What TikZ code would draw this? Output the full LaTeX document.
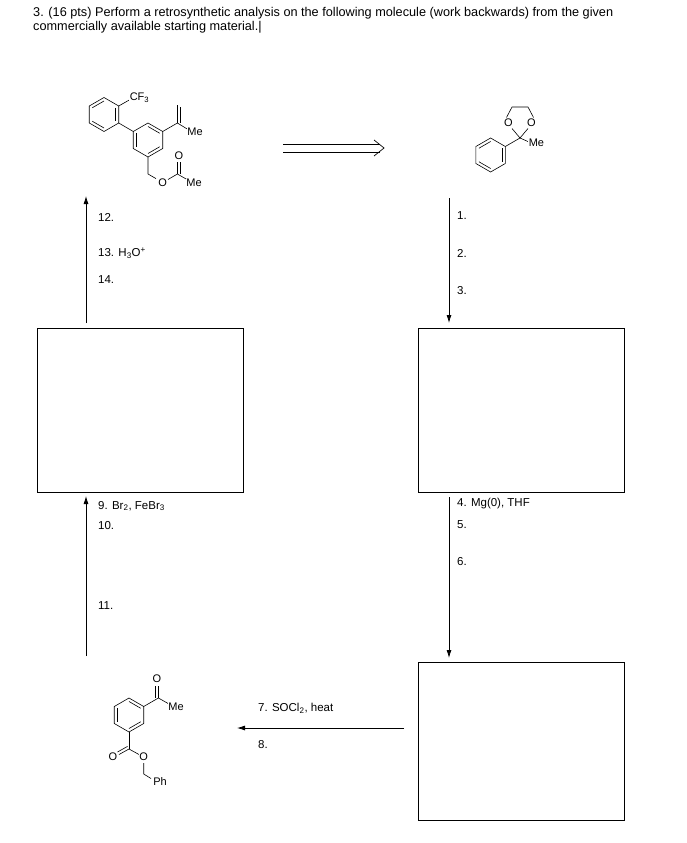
\documentclass[tikz,border=0pt]{standalone}
\usepackage{fontspec}
\setmainfont{Liberation Sans}
\usetikzlibrary{arrows.meta,calc}
\begin{document}
\begin{tikzpicture}[x=1pt,y=-1pt,
  lbl/.style={anchor=west,inner sep=0pt,font=\fontsize{11.5}{13}\selectfont},
  atom/.style={inner sep=0.6pt,fill=white,font=\fontsize{11}{12}\selectfont},
  bond/.style={line width=0.6pt},
  rxn/.style={line width=0.8pt,-{Latex[length=8pt,width=5pt]}},
  box/.style={draw,line width=0.8pt}]
\useasboundingbox (0,0) rectangle (687,843);
\newcommand{\benz}[3]{% center x, y, inner-bond angles
  \draw[bond] ($(#1,#2)+(30:17)$) -- ($(#1,#2)+(90:17)$) -- ($(#1,#2)+(150:17)$) -- ($(#1,#2)+(210:17)$) -- ($(#1,#2)+(270:17)$) -- ($(#1,#2)+(330:17)$) -- cycle;
  \foreach \a in {#3} {\draw[bond] ($(#1,#2)+(\a:13.5)$) -- ($(#1,#2)+(\a+60:13.5)$);}
}
% title
\node[anchor=north west,inner sep=0pt,align=left,font=\fontsize{12.7}{14.5}\selectfont] (title) at (33,7)
 {3. (16 pts) Perform a retrosynthetic analysis on the following molecule (work backwards) from the given\\commercially available starting material.|};
% target molecule
\begin{scope}
\benz{104}{114.5}{90,210,330}
\benz{148}{140}{30,150,270}
\draw[bond] (133.3,131.5) -- (118.7,123);
\draw[bond] (118.7,106) -- (131,99);
\node[atom,anchor=west] (cf3) at (129,98) {CF\textsubscript{3}};
\draw[bond] (162.7,131.5) -- (177.4,123);
\draw[bond] (177.4,123) -- (177.4,105);
\draw[bond] (180.4,123) -- (180.4,107);
\draw[bond] (177.4,123) -- (188,129.5);
\node[atom] (me1) at (195,132) {Me};
\draw[bond] (148,157) -- (148,174) -- (156,178.6);
\node[atom] (o1) at (162.7,182.5) {O};
\draw[bond] (168,179.5) -- (177.4,174);
\draw[bond] (177.4,174) -- (177.4,162);
\draw[bond] (180.4,174) -- (180.4,162);
\node[atom] (o2) at (178.9,156) {O};
\draw[bond] (177.4,174) -- (187,179.5);
\node[atom] (me2) at (194,183) {Me};
\end{scope}
% retro arrow
\draw[line width=0.7pt] (283,144) -- (380,144);
\draw[line width=0.7pt] (283,152) -- (380,152);
\draw[line width=0.7pt] (374,140) -- (384,148) -- (374,156);
% ketal
\benz{490.6}{155}{90,210,330}
\draw[bond] (505.3,146.5) -- (520,138);
\node[atom] (o3) at (508.5,123) {O};
\node[atom] (o4) at (531.5,123) {O};
\draw[bond] (520,138) -- (512,128.5);
\draw[bond] (520,138) -- (528,128.5);
\draw[bond] (506.5,117.5) -- (512,107) -- (528,107) -- (533.5,117.5);
\draw[bond] (520,138) -- (529,142);
\node[atom,anchor=west] (me3) at (528,143) {Me};
% arrows and labels
\coordinate (a1s) at (86,323); \coordinate (a1e) at (86,196);
\draw[rxn] (a1s) -- (a1e);
\node[lbl] (l12) at (98,217) {12.};
\node[lbl] (l13) at (98,253) {13. H\textsubscript{3}O\textsuperscript{+}};
\node[lbl] (l14) at (98,280) {14.};
\coordinate (a2s) at (449,198); \coordinate (a2e) at (449,323);
\draw[rxn] (a2s) -- (a2e);
\node[lbl] (l1) at (457,216) {1.};
\node[lbl] (l2) at (457,253) {2.};
\node[lbl] (l3) at (457,291) {3.};
\node[box,minimum width=206pt,minimum height=164pt,anchor=north west] (b1) at (37,328) {};
\node[box,minimum width=206pt,minimum height=164pt,anchor=north west] (b2) at (418,328) {};
\node[box,minimum width=206pt,minimum height=158pt,anchor=north west] (b3) at (418,662) {};
\coordinate (a3s) at (86,656); \coordinate (a3e) at (86,496);
\draw[rxn] (a3s) -- (a3e);
\node[lbl] (l9) at (98,506) {9. Br\textsubscript{2}, FeBr\textsubscript{3}};
\node[lbl] (l10) at (98,526) {10.};
\node[lbl] (l11) at (98,606) {11.};
\coordinate (a4s) at (449,497); \coordinate (a4e) at (449,658);
\draw[rxn] (a4s) -- (a4e);
\node[lbl] (l4) at (457,504) {4. Mg(0), THF};
\node[lbl] (l5) at (457,525) {5.};
\node[lbl] (l6) at (457,562) {6.};
\coordinate (a5s) at (404,728); \coordinate (a5e) at (237,728);
\draw[rxn] (a5s) -- (a5e);
\node[lbl] (l7) at (258,708) {7. SOCl\textsubscript{2}, heat};
\node[lbl] (l8) at (258,745) {8.};
% starting material
\benz{129}{715}{30,150,270}
\draw[bond] (143.7,706.5) -- (158.4,698);
\draw[bond] (158.4,698) -- (158.4,686);
\draw[bond] (155.4,698) -- (155.4,686);
\node[atom] (o5) at (156.9,679) {O};
\draw[bond] (158.4,698) -- (169,704);
\node[atom] (me4) at (176,707) {Me};
\draw[bond] (129,732) -- (129,749);
\draw[bond] (129,749) -- (119,754.5);
\draw[bond] (127.5,746.4) -- (117.5,752);
\node[atom] (o6) at (113,757) {O};
\draw[bond] (129,749) -- (139,754.5);
\node[atom] (o7) at (143.7,757) {O};
\draw[bond] (143.7,763) -- (143.7,774) -- (151,778.5);
\node[atom] (ph) at (160,782) {Ph};
\end{tikzpicture}
\end{document}
